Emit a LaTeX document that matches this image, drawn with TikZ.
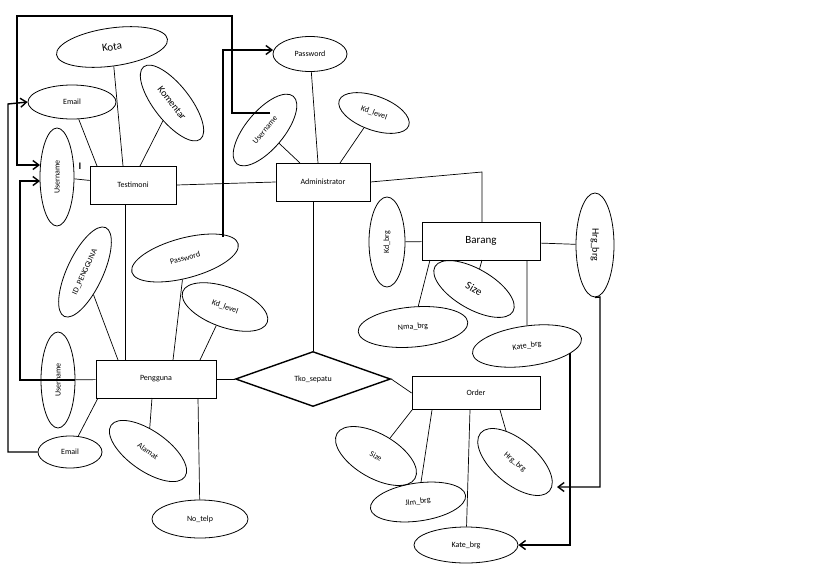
\documentclass[tikz,border=0pt]{standalone}
\usepackage{fontspec}
\setmainfont{Carlito}
\usetikzlibrary{shapes.geometric,arrows.meta}
\begin{document}
\begin{tikzpicture}[x=1pt,y=-1pt,line width=0.7pt,
  att/.style={ellipse,draw,thick,inner sep=0pt,font=\fontsize{8}{9}\selectfont},
  ent/.style={rectangle,draw,thick,inner sep=0pt,font=\fontsize{8}{9}\selectfont},
  bar/.style={draw,line width=1.4pt,-{Straight Barb[length=6pt,width=9pt]}}]
\useasboundingbox (0,0) rectangle (819,584);
% entities
\node[ent,minimum width=86,minimum height=38] (test) at (133,185) {Testimoni};
\node[ent,minimum width=94,minimum height=38] (adm) at (323,182) {Administrator};
\node[ent,minimum width=120,minimum height=38] (peng) at (156,379) {Pengguna};
\node[ent,minimum width=118,minimum height=38,font=\fontsize{11}{12}\selectfont] (bar) at (481,241) {Barang};
\node[ent,minimum width=128,minimum height=33] (ord) at (476,393) {Order};
\node[diamond,draw,line width=1.4pt,minimum width=155,minimum height=55,aspect=2.8,inner sep=0pt,font=\fontsize{8}{9}\selectfont] (tko) at (313,379) {Tko\_sepatu};
% Testimoni attributes
\node[att,minimum width=112,minimum height=38,rotate=8,font=\fontsize{11}{12}\selectfont] (kota) at (112,47) {Kota};
\node[att,minimum width=92,minimum height=36,rotate=-52,font=\fontsize{10}{11}\selectfont] (kom) at (172,103) {Komentar};
\node[att,minimum width=88,minimum height=34] (em1) at (72,102) {Email};
\node[att,minimum width=98,minimum height=34,rotate=90] (us1) at (57,177) {Username};
\node[font=\bfseries\fontsize{10}{10}\selectfont] (mark) at (80,166) {I};
% Administrator attributes
\node[att,minimum width=74,minimum height=35] (pw1) at (310,54) {Password};
\node[att,minimum width=88,minimum height=38,rotate=50] (us2) at (265,130) {Username};
\node[att,minimum width=74,minimum height=34,rotate=-20] (kd1) at (374,113) {Kd\_level};
% Pengguna attributes
\node[att,minimum width=98,minimum height=36,rotate=65] (idp) at (85,272) {ID\_PENGGUNA};
\node[att,minimum width=110,minimum height=40,rotate=15] (pw2) at (185,258) {Password};
\node[att,minimum width=90,minimum height=40,rotate=-20] (kd2) at (225,307) {Kd\_level};
\node[att,minimum width=96,minimum height=34,rotate=90] (us3) at (58,380) {Username};
\node[att,minimum width=64,minimum height=32] (em2) at (70,452) {Email};
\node[att,minimum width=90,minimum height=40,rotate=-35] (alm) at (148,451) {Alamat};
\node[att,minimum width=96,minimum height=38] (tlp) at (200,519) {No\_telp};
% Barang attributes
\node[att,minimum width=90,minimum height=36,rotate=90] (kdb) at (387,242) {Kd\_brg};
\node[att,minimum width=104,minimum height=38,rotate=-90,font=\fontsize{10}{11}\selectfont] (hrg) at (595,245) {Hrg\_brg};
\node[att,minimum width=90,minimum height=40,rotate=-30,font=\fontsize{11}{12}\selectfont] (sz1) at (474,289) {Size};
\node[att,minimum width=110,minimum height=40,rotate=5] (nma) at (413,327) {Nma\_brg};
\node[att,minimum width=110,minimum height=40,rotate=8] (kt1) at (527,346) {Kate\_brg};
% Order attributes
\node[att,minimum width=90,minimum height=44,rotate=-30] (sz2) at (376,456) {Size};
\node[att,minimum width=96,minimum height=38,rotate=8] (jlm) at (418,502) {Jlm\_brg};
\node[att,minimum width=104,minimum height=36] (kt2) at (466,545) {Kate\_brg};
\node[att,minimum width=90,minimum height=44,rotate=-40] (hr2) at (515,462) {Hrg\_brg};
% thin connectors
\draw (em1) -- (97,166);
\draw (kota) -- (123,166);
\draw (kom) -- (140,166);
\draw (us1) -- (test);
\draw (test.east) -- (adm.west);
\draw (125,204) -- (125,360);
\draw (us2) -- (300,163);
\draw (kd1) -- (340,163);
\draw (pw1) -- (318,163);
\draw (adm.east) -- (482,172) -- (482,222);
\draw (adm.south -| tko.north) -- (tko.north);
\draw (idp) -- (118,360);
\draw (pw2) -- (173,360);
\draw (kd2) -- (200,360);
\draw (us3) -- (peng);
\draw (em2) -- (98,398);
\draw (alm) -- (152,398);
\draw (tlp) -- (198,398);
\draw (peng.east) -- (tko.west);
\draw (tko.east) -- (ord.west);
\draw (kdb) -- (bar);
\draw (hrg) -- (bar);
\draw (sz1) -- (482,260);
\draw (nma) -- (430,260);
\draw (kt1) -- (527,260);
\draw (sz2) -- (412,410);
\draw (jlm) -- (432,410);
\draw (kt2) -- (470,410);
\draw (hr2) -- (500,410);
% thick connectors
\coordinate (a1) at (40,165);
\coordinate (a2) at (40,181);
\coordinate (a3) at (273,50);
\coordinate (a4) at (557,487);
\draw[bar] (270,113) -- (232,113) -- (232,16) -- (17,16) -- (17,165) -- (a1);
\draw[bar] (em2.west) -- (8,452) -- (8,104) -- (em1.west);
\draw[bar] (us3.south) -- (20,380) -- (20,181) -- (a2);
\draw[bar] (223,237) -- (223,50) -- (a3);
\draw[bar] (hrg.east) -- (600,297) -- (600,487) -- (a4);
\draw[bar] (570,353) -- (570,545) -- (kt2.east);
\end{tikzpicture}
\end{document}
